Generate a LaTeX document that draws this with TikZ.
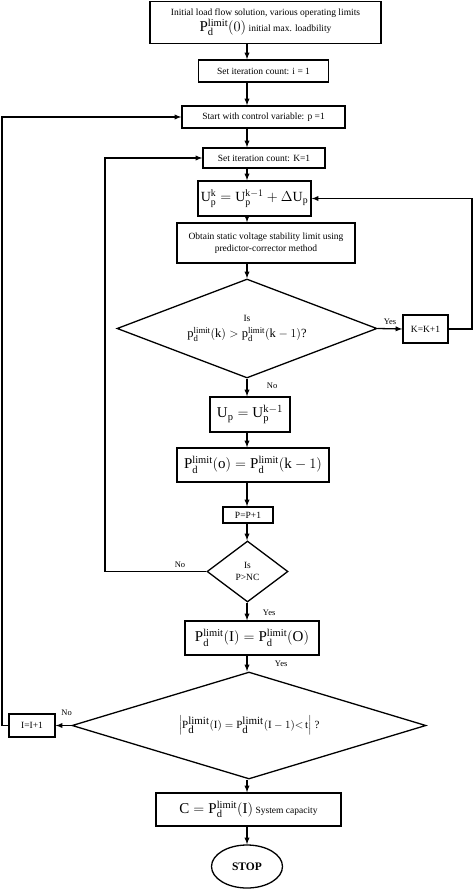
\documentclass[tikz,border=0pt]{standalone}
\usepackage{amsmath}
\usepackage{fontspec}
\setmainfont{Liberation Serif}
\usetikzlibrary{shapes.geometric}
\newcommand{\Plim}{\mathrm{P}_\mathrm{d}^\mathrm{limit}}
\newcommand{\rmv}[1]{\mathrm{#1}}
\begin{document}
\begin{tikzpicture}[x=1pt, y=-1pt, >=latex, line width=1.3pt,
  box/.style={draw, rectangle, inner sep=1pt, align=center, font=\fontsize{9.5}{11.5}\selectfont},
  eqbox/.style={box, font=\fontsize{15}{17}\selectfont},
  decision/.style={draw, diamond, inner sep=0pt, align=center, font=\fontsize{9.5}{11.5}\selectfont},
  lbl/.style={font=\fontsize{8.5}{10}\selectfont}]
\useasboundingbox (0,0) rectangle (474,890);
% spine and side rails for the loops
\coordinate (spine) at (247,0);
\coordinate (rgt) at (472,0);
\coordinate (lft1) at (2,0);
\coordinate (lft2) at (105,0);

% ===== main column =====
\node[box, minimum width=231pt, minimum height=42pt] (init) at (265.5,22.5)
  {Initial load flow solution, various operating limits\\
   {\fontsize{15}{17}\selectfont$\Plim(0)$} initial max. loadbility};
\node[box, minimum width=130pt, minimum height=22pt] (iter) at (263.5,71) {Set iteration count: i = 1};
\node[box, minimum width=163pt, minimum height=22pt] (start) at (263.5,117) {Start with control variable: p =1};
\node[box, minimum width=122pt, minimum height=20pt] (kset) at (264,158) {Set iteration count: K=1};
\node[eqbox, font=\fontsize{14}{16}\selectfont, minimum width=113pt, minimum height=35pt] (upd) at (254.5,198.5)
  {$\rmv{U}_\rmv{p}^\rmv{k} = \rmv{U}_\rmv{p}^{\rmv{k}-1} + \Delta\rmv{U}_\rmv{p}$};
\node[box, minimum width=178pt, minimum height=40pt] (obtain) at (266,243)
  {Obtain static voltage stability limit using\\ predictor-corrector method};
\node[decision, aspect=2.6, minimum width=260pt, minimum height=99pt] (dia1) at (247,328.5)
  {Is\\[4pt] {\fontsize{12.5}{14}\selectfont$\rmv{p}_\rmv{d}^\rmv{limit}(\rmv{k}) > \rmv{p}_\rmv{d}^\rmv{limit}(\rmv{k}-1)$?}};
\node[box, minimum width=45pt, minimum height=28pt] (kinc) at (425.5,329) {K=K+1};
\node[eqbox, minimum width=80pt, minimum height=35pt] (upset) at (250,414.5)
  {$\rmv{U}_\rmv{p} = \rmv{U}_\rmv{p}^{\rmv{k}-1}$};
\node[eqbox, minimum width=152pt, minimum height=34pt] (pzero) at (253,465)
  {$\Plim(\rmv{o}) = \Plim(\rmv{k}-1)$};
\node[box, minimum width=50pt, minimum height=16pt] (pinc) at (248,515) {P=P+1};
\node[decision, aspect=1.33, minimum width=81pt, minimum height=61pt] (dia2) at (247.5,571.5) {Is\\ P>NC};
\node[eqbox, minimum width=134pt, minimum height=34pt] (pI) at (252,638)
  {$\Plim(\rmv{I}) = \Plim(\rmv{O})$};
\node[decision, aspect=3.3, minimum width=354pt, minimum height=107pt, font=\fontsize{11}{13}\selectfont] (dia3) at (249,725.5)
  {$\left|\rmv{P}_{\textstyle\rmv{d}}^{\textstyle\rmv{limit}}(\rmv{I}) = \rmv{P}_{\textstyle\rmv{d}}^{\textstyle\rmv{limit}}(\rmv{I}-1){<}\,\rmv{t}\right|$ ?};
\node[box, minimum width=46pt, minimum height=23pt] (iinc) at (32,725.5) {I=I+1};
\node[eqbox, minimum width=185pt, minimum height=33pt] (cap) at (248.5,809.5)
  {$\rmv{C} = \Plim(\rmv{I})$\,{\fontsize{9.5}{11}\selectfont System capacity}};
\node[draw, ellipse, minimum width=71pt, minimum height=43pt, inner sep=0pt,
  font=\fontsize{11.5}{13}\selectfont\bfseries] (stop) at (247,866.5) {STOP};

% ===== straight arrows =====
\draw[->] (init.south -| spine) -- (iter.north -| spine);
\draw[->] (iter.south -| spine) -- (start.north -| spine);
\draw[->] (start.south -| spine) -- (kset.north -| spine);
\draw[->] (kset.south -| spine) -- (upd.north -| spine);
\draw[->] (upd.south -| spine) -- (obtain.north -| spine);
\draw[->] (obtain.south -| spine) -- (dia1.north);
\draw[->] (dia1.south) -- (upset.north -| spine)
  node[lbl, pos=0.4, right=16pt] {No};
\draw[->] (upset.south -| spine) -- (pzero.north -| spine);
\draw[->] (pzero.south -| spine) -- (pinc.north -| spine);
\draw[->] (pinc.south -| spine) -- (dia2.north -| spine);
\draw[->] (dia2.south -| spine) -- (pI.north -| spine)
  node[lbl, pos=0.55, right=12pt] {Yes};
\draw[->] (pI.south -| spine) -- (dia3.north -| spine)
  node[lbl, pos=0.5, right=24pt] {Yes};
\draw[->] (dia3.south -| spine) -- (cap.north -| spine);
\draw[->] (cap.south -| spine) -- (stop.north);

% ===== loops =====
\draw[->] (dia1.east) -- node[lbl, above] {Yes} (kinc.west);
\draw[->] (kinc.east) -- (kinc.east -| rgt) |- (upd.east);
\draw[->] (dia2.west) -- node[lbl, above, pos=0.26] {No} (dia2.west -| lft2) |- (kset.west);
\draw[->] (dia3.west) -- node[lbl, above=6pt, pos=0.3] {No} (iinc.east);
\draw[->] (iinc.west) -- (iinc.west -| lft1) |- (start.west);
\end{tikzpicture}
\end{document}
